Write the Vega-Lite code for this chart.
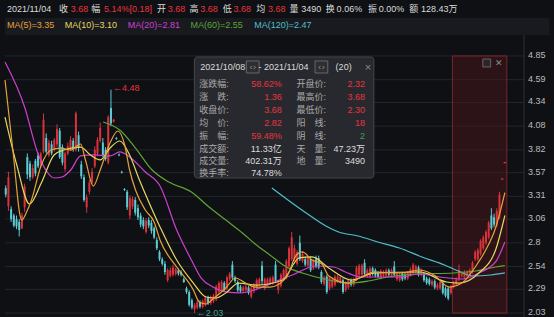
{
  "$schema": "https://vega.github.io/schema/vega-lite/v6.json",
  "width": 529,
  "height": 317,
  "autosize": {"type": "none"},
  "padding": {"left": 0, "right": 25, "top": 0, "bottom": 0},
  "background": "#0e1014",
  "config": {"view": {"stroke": null}},
  "datasets": {
    "k": [
      {"i":-1,"o":3.40,"h":3.43,"l":3.30,"c":3.33},
      {"i":0,"o":3.20,"h":3.58,"l":3.15,"c":3.52},
      {"i":1,"o":3.17,"h":3.20,"l":3.03,"c":3.06},
      {"i":2,"o":3.10,"h":3.12,"l":2.97,"c":2.99},
      {"i":3,"o":3.06,"h":3.10,"l":2.95,"c":2.98},
      {"i":4,"o":3.03,"h":3.06,"l":2.87,"c":2.94},
      {"i":5,"o":2.96,"h":3.13,"l":2.95,"c":3.10},
      {"i":6,"o":3.19,"h":3.45,"l":3.14,"c":3.42},
      {"i":7,"o":3.74,"h":3.78,"l":3.50,"c":3.55},
      {"i":8,"o":3.67,"h":3.70,"l":3.48,"c":3.52},
      {"i":9,"o":3.52,"h":3.66,"l":3.50,"c":3.62},
      {"i":10,"o":3.70,"h":3.72,"l":3.53,"c":3.56},
      {"i":11,"o":3.76,"h":3.79,"l":3.62,"c":3.64},
      {"i":12,"o":3.66,"h":3.80,"l":3.62,"c":3.78},
      {"i":13,"o":3.80,"h":4.22,"l":3.78,"c":4.15},
      {"i":14,"o":3.95,"h":4.00,"l":3.78,"c":3.80},
      {"i":15,"o":3.76,"h":3.93,"l":3.74,"c":3.90},
      {"i":16,"o":3.88,"h":3.92,"l":3.76,"c":3.78},
      {"i":17,"o":3.82,"h":3.95,"l":3.80,"c":3.93},
      {"i":18,"o":3.88,"h":4.10,"l":3.85,"c":4.05},
      {"i":19,"o":4.03,"h":4.06,"l":3.72,"c":3.74},
      {"i":20,"o":3.85,"h":3.88,"l":3.65,"c":3.68},
      {"i":21,"o":3.61,"h":3.80,"l":3.58,"c":3.78},
      {"i":22,"o":3.78,"h":3.90,"l":3.76,"c":3.86},
      {"i":23,"o":3.84,"h":3.97,"l":3.82,"c":3.93},
      {"i":24,"o":3.92,"h":3.95,"l":3.80,"c":3.83},
      {"i":25,"o":3.82,"h":4.24,"l":3.80,"c":4.22},
      {"i":26,"o":3.98,"h":4.02,"l":3.80,"c":3.84},
      {"i":27,"o":3.66,"h":3.70,"l":3.50,"c":3.53},
      {"i":28,"o":3.52,"h":3.55,"l":3.25,"c":3.27},
      {"i":29,"o":3.19,"h":3.33,"l":3.13,"c":3.30},
      {"i":30,"o":3.36,"h":3.49,"l":3.33,"c":3.46},
      {"i":31,"o":3.46,"h":3.62,"l":3.44,"c":3.58},
      {"i":32,"o":3.64,"h":3.86,"l":3.62,"c":3.82},
      {"i":33,"o":3.78,"h":3.96,"l":3.75,"c":3.93},
      {"i":34,"o":3.92,"h":4.12,"l":3.90,"c":4.06},
      {"i":35,"o":3.90,"h":3.95,"l":3.74,"c":3.76},
      {"i":36,"o":3.82,"h":3.85,"l":3.70,"c":3.72},
      {"i":37,"o":3.68,"h":4.20,"l":3.66,"c":4.18},
      {"i":38,"o":4.28,"h":4.48,"l":4.08,"c":4.11},
      {"i":39,"o":4.13,"h":4.16,"l":4.12,"c":4.15},
      {"i":40,"o":3.95,"h":3.96,"l":3.93,"c":3.94},
      {"i":41,"o":3.77,"h":3.78,"l":3.75,"c":3.76},
      {"i":42,"o":3.58,"h":3.59,"l":3.56,"c":3.57},
      {"i":43,"o":3.39,"h":3.40,"l":3.37,"c":3.38},
      {"i":44,"o":3.36,"h":3.38,"l":3.16,"c":3.19},
      {"i":45,"o":3.10,"h":3.32,"l":3.06,"c":3.29},
      {"i":46,"o":3.20,"h":3.31,"l":3.17,"c":3.28},
      {"i":47,"o":3.27,"h":3.30,"l":3.10,"c":3.13},
      {"i":48,"o":3.18,"h":3.22,"l":3.05,"c":3.08},
      {"i":49,"o":3.10,"h":3.13,"l":2.97,"c":3.00},
      {"i":50,"o":3.05,"h":3.08,"l":2.95,"c":2.98},
      {"i":51,"o":2.92,"h":3.07,"l":2.90,"c":3.04},
      {"i":52,"o":3.05,"h":3.08,"l":2.96,"c":2.99},
      {"i":53,"o":3.02,"h":3.05,"l":2.90,"c":2.93},
      {"i":54,"o":2.96,"h":2.98,"l":2.84,"c":2.86},
      {"i":55,"o":2.83,"h":2.86,"l":2.72,"c":2.74},
      {"i":56,"o":2.70,"h":2.72,"l":2.60,"c":2.62},
      {"i":57,"o":2.62,"h":2.64,"l":2.55,"c":2.57},
      {"i":58,"o":2.57,"h":2.60,"l":2.45,"c":2.48},
      {"i":59,"o":2.39,"h":2.52,"l":2.37,"c":2.50},
      {"i":60,"o":2.44,"h":2.53,"l":2.42,"c":2.50},
      {"i":61,"o":2.45,"h":2.56,"l":2.43,"c":2.53},
      {"i":62,"o":2.46,"h":2.53,"l":2.44,"c":2.51},
      {"i":63,"o":2.50,"h":2.52,"l":2.44,"c":2.46},
      {"i":64,"o":2.48,"h":2.50,"l":2.43,"c":2.45},
      {"i":65,"o":2.40,"h":2.42,"l":2.36,"c":2.37},
      {"i":66,"o":2.30,"h":2.32,"l":2.24,"c":2.26},
      {"i":67,"o":2.26,"h":2.28,"l":2.10,"c":2.12},
      {"i":68,"o":2.17,"h":2.19,"l":2.07,"c":2.09},
      {"i":69,"o":2.07,"h":2.14,"l":2.03,"c":2.12},
      {"i":70,"o":2.09,"h":2.17,"l":2.07,"c":2.15},
      {"i":71,"o":2.15,"h":2.17,"l":2.08,"c":2.10},
      {"i":72,"o":2.10,"h":2.18,"l":2.08,"c":2.16},
      {"i":73,"o":2.12,"h":2.22,"l":2.10,"c":2.20},
      {"i":74,"o":2.20,"h":2.22,"l":2.12,"c":2.14},
      {"i":75,"o":2.14,"h":2.22,"l":2.12,"c":2.20},
      {"i":76,"o":2.16,"h":2.24,"l":2.14,"c":2.22},
      {"i":77,"o":2.18,"h":2.34,"l":2.16,"c":2.32},
      {"i":78,"o":2.26,"h":2.38,"l":2.24,"c":2.36},
      {"i":79,"o":2.28,"h":2.39,"l":2.26,"c":2.37},
      {"i":80,"o":2.36,"h":2.38,"l":2.26,"c":2.28},
      {"i":81,"o":2.30,"h":2.44,"l":2.28,"c":2.42},
      {"i":82,"o":2.40,"h":2.48,"l":2.38,"c":2.46},
      {"i":83,"o":2.56,"h":2.60,"l":2.40,"c":2.42},
      {"i":84,"o":2.42,"h":2.44,"l":2.36,"c":2.38},
      {"i":85,"o":2.37,"h":2.39,"l":2.26,"c":2.28},
      {"i":86,"o":2.32,"h":2.34,"l":2.25,"c":2.27},
      {"i":87,"o":2.27,"h":2.33,"l":2.25,"c":2.31},
      {"i":88,"o":2.28,"h":2.34,"l":2.26,"c":2.32},
      {"i":89,"o":2.31,"h":2.33,"l":2.23,"c":2.25},
      {"i":90,"o":2.21,"h":2.32,"l":2.19,"c":2.30},
      {"i":91,"o":2.27,"h":2.36,"l":2.25,"c":2.34},
      {"i":92,"o":2.30,"h":2.41,"l":2.28,"c":2.39},
      {"i":93,"o":2.35,"h":2.42,"l":2.33,"c":2.40},
      {"i":94,"o":2.55,"h":2.60,"l":2.34,"c":2.38},
      {"i":95,"o":2.30,"h":2.42,"l":2.28,"c":2.40},
      {"i":96,"o":2.34,"h":2.42,"l":2.32,"c":2.40},
      {"i":97,"o":2.36,"h":2.43,"l":2.34,"c":2.41},
      {"i":98,"o":2.36,"h":2.44,"l":2.34,"c":2.42},
      {"i":99,"o":2.56,"h":2.60,"l":2.36,"c":2.38},
      {"i":100,"o":2.28,"h":2.38,"l":2.24,"c":2.36},
      {"i":101,"o":2.33,"h":2.47,"l":2.31,"c":2.45},
      {"i":102,"o":2.40,"h":2.52,"l":2.38,"c":2.50},
      {"i":103,"o":2.42,"h":2.62,"l":2.40,"c":2.60},
      {"i":104,"o":2.54,"h":2.76,"l":2.52,"c":2.74},
      {"i":105,"o":2.62,"h":2.92,"l":2.60,"c":2.86},
      {"i":106,"o":2.62,"h":2.78,"l":2.60,"c":2.74},
      {"i":107,"o":2.57,"h":2.72,"l":2.55,"c":2.70},
      {"i":108,"o":2.80,"h":2.88,"l":2.60,"c":2.62},
      {"i":109,"o":2.60,"h":2.70,"l":2.58,"c":2.68},
      {"i":110,"o":2.62,"h":2.65,"l":2.54,"c":2.56},
      {"i":111,"o":2.55,"h":2.66,"l":2.53,"c":2.64},
      {"i":112,"o":2.62,"h":2.65,"l":2.48,"c":2.50},
      {"i":113,"o":2.52,"h":2.62,"l":2.50,"c":2.60},
      {"i":114,"o":2.62,"h":2.66,"l":2.52,"c":2.54},
      {"i":115,"o":2.63,"h":2.66,"l":2.51,"c":2.53},
      {"i":116,"o":2.48,"h":2.50,"l":2.35,"c":2.37},
      {"i":117,"o":2.35,"h":2.44,"l":2.33,"c":2.42},
      {"i":118,"o":2.43,"h":2.45,"l":2.24,"c":2.26},
      {"i":119,"o":2.30,"h":2.44,"l":2.28,"c":2.42},
      {"i":120,"o":2.32,"h":2.42,"l":2.30,"c":2.40},
      {"i":121,"o":2.34,"h":2.45,"l":2.32,"c":2.43},
      {"i":122,"o":2.38,"h":2.45,"l":2.36,"c":2.43},
      {"i":123,"o":2.37,"h":2.44,"l":2.35,"c":2.42},
      {"i":124,"o":2.39,"h":2.41,"l":2.24,"c":2.26},
      {"i":125,"o":2.28,"h":2.38,"l":2.26,"c":2.36},
      {"i":126,"o":2.31,"h":2.41,"l":2.29,"c":2.39},
      {"i":127,"o":2.39,"h":2.41,"l":2.32,"c":2.34},
      {"i":128,"o":2.34,"h":2.42,"l":2.32,"c":2.40},
      {"i":129,"o":2.40,"h":2.55,"l":2.38,"c":2.53},
      {"i":130,"o":2.45,"h":2.57,"l":2.43,"c":2.55},
      {"i":131,"o":2.45,"h":2.57,"l":2.43,"c":2.55},
      {"i":132,"o":2.58,"h":2.62,"l":2.44,"c":2.46},
      {"i":133,"o":2.44,"h":2.52,"l":2.42,"c":2.50},
      {"i":134,"o":2.43,"h":2.54,"l":2.41,"c":2.52},
      {"i":135,"o":2.52,"h":2.54,"l":2.44,"c":2.46},
      {"i":136,"o":2.50,"h":2.52,"l":2.42,"c":2.44},
      {"i":137,"o":2.47,"h":2.49,"l":2.41,"c":2.43},
      {"i":138,"o":2.42,"h":2.51,"l":2.40,"c":2.49},
      {"i":139,"o":2.44,"h":2.50,"l":2.42,"c":2.48},
      {"i":140,"o":2.44,"h":2.52,"l":2.42,"c":2.50},
      {"i":141,"o":2.50,"h":2.52,"l":2.43,"c":2.45},
      {"i":142,"o":2.44,"h":2.52,"l":2.42,"c":2.50},
      {"i":143,"o":2.54,"h":2.60,"l":2.43,"c":2.45},
      {"i":144,"o":2.40,"h":2.48,"l":2.38,"c":2.46},
      {"i":145,"o":2.39,"h":2.47,"l":2.37,"c":2.45},
      {"i":146,"o":2.46,"h":2.48,"l":2.38,"c":2.40},
      {"i":147,"o":2.45,"h":2.47,"l":2.39,"c":2.41},
      {"i":148,"o":2.41,"h":2.49,"l":2.39,"c":2.47},
      {"i":149,"o":2.45,"h":2.53,"l":2.43,"c":2.51},
      {"i":150,"o":2.47,"h":2.58,"l":2.45,"c":2.56},
      {"i":151,"o":2.48,"h":2.56,"l":2.46,"c":2.54},
      {"i":152,"o":2.53,"h":2.55,"l":2.43,"c":2.45},
      {"i":153,"o":2.45,"h":2.52,"l":2.43,"c":2.50},
      {"i":154,"o":2.45,"h":2.47,"l":2.37,"c":2.39},
      {"i":155,"o":2.41,"h":2.43,"l":2.34,"c":2.36},
      {"i":156,"o":2.40,"h":2.42,"l":2.33,"c":2.35},
      {"i":157,"o":2.34,"h":2.40,"l":2.32,"c":2.38},
      {"i":158,"o":2.38,"h":2.40,"l":2.29,"c":2.31},
      {"i":159,"o":2.30,"h":2.36,"l":2.28,"c":2.34},
      {"i":160,"o":2.30,"h":2.39,"l":2.28,"c":2.37},
      {"i":161,"o":2.36,"h":2.38,"l":2.23,"c":2.25},
      {"i":162,"o":2.30,"h":2.32,"l":2.20,"c":2.22},
      {"i":163,"o":2.30,"h":2.32,"l":2.17,"c":2.19},
      {"i":164,"o":2.25,"h":2.34,"l":2.23,"c":2.32},
      {"i":165,"o":2.32,"h":2.38,"l":2.30,"c":2.36},
      {"i":166,"o":2.34,"h":2.42,"l":2.33,"c":2.40},
      {"i":167,"o":2.40,"h":2.56,"l":2.38,"c":2.50},
      {"i":168,"o":2.44,"h":2.49,"l":2.42,"c":2.47},
      {"i":169,"o":2.42,"h":2.50,"l":2.40,"c":2.48},
      {"i":170,"o":2.44,"h":2.50,"l":2.42,"c":2.48},
      {"i":171,"o":2.45,"h":2.52,"l":2.43,"c":2.50},
      {"i":172,"o":2.48,"h":2.60,"l":2.46,"c":2.58},
      {"i":173,"o":2.62,"h":2.72,"l":2.60,"c":2.70},
      {"i":174,"o":2.62,"h":2.74,"l":2.60,"c":2.72},
      {"i":175,"o":2.68,"h":2.84,"l":2.66,"c":2.82},
      {"i":176,"o":2.74,"h":2.88,"l":2.72,"c":2.86},
      {"i":177,"o":2.80,"h":2.94,"l":2.78,"c":2.92},
      {"i":178,"o":2.86,"h":3.04,"l":2.84,"c":3.02},
      {"i":179,"o":3.10,"h":3.18,"l":2.94,"c":2.96},
      {"i":180,"o":3.08,"h":3.12,"l":2.97,"c":3.00},
      {"i":181,"o":2.99,"h":3.18,"l":2.97,"c":3.15},
      {"i":182,"o":3.08,"h":3.36,"l":3.06,"c":3.33},
      {"i":183,"o":3.50,"h":3.50,"l":3.50,"c":3.50},
      {"i":184,"o":3.68,"h":3.68,"l":3.68,"c":3.68}
    ],
    "ma5": [
      {"i":-1.27,"v":4.586},{"i":1.64,"v":3.818},{"i":4.91,"v":3.05},{"i":6.73,"v":3.138},{"i":8.55,"v":3.27},{"i":12.18,"v":3.654},{"i":15.82,"v":3.818},{"i":19.45,"v":3.84},{"i":23.09,"v":3.818},{"i":26.73,"v":3.884},{"i":28.55,"v":3.709},{"i":31.45,"v":3.423},{"i":34.0,"v":3.599},{"i":37.64,"v":3.895},{"i":40.55,"v":4.027},{"i":43.09,"v":3.873},{"i":44.91,"v":3.599},{"i":47.09,"v":3.38},{"i":50.73,"v":3.16},{"i":54.0,"v":3.029},{"i":56.18,"v":2.831},{"i":62.36,"v":2.535},{"i":68.55,"v":2.283},{"i":70.73,"v":2.151},{"i":73.27,"v":2.129},{"i":75.82,"v":2.184},{"i":80.55,"v":2.305},{"i":84.18,"v":2.414},{"i":87.82,"v":2.359},{"i":91.45,"v":2.315},{"i":96.91,"v":2.315},{"i":103.09,"v":2.425},{"i":106.73,"v":2.667},{"i":108.91,"v":2.70},{"i":112.55,"v":2.612},{"i":116.18,"v":2.568},{"i":118.73,"v":2.436},{"i":126.0,"v":2.359},{"i":130.73,"v":2.425},{"i":135.82,"v":2.48},{"i":145.27,"v":2.469},{"i":152.55,"v":2.502},{"i":157.64,"v":2.447},{"i":163.45,"v":2.315},{"i":168.55,"v":2.37},{"i":173.27,"v":2.546},{"i":176.91,"v":2.721},{"i":180.55,"v":2.963},{"i":184,"v":3.35}
    ],
    "ma10": [
      {"i":-1.27,"v":4.18},{"i":3.09,"v":3.654},{"i":7.82,"v":3.226},{"i":12.18,"v":3.456},{"i":16.91,"v":3.764},{"i":20.55,"v":3.818},{"i":26.73,"v":3.851},{"i":30.36,"v":3.764},{"i":34.0,"v":3.709},{"i":37.64,"v":3.84},{"i":41.27,"v":3.917},{"i":44.91,"v":3.764},{"i":48.55,"v":3.489},{"i":52.18,"v":3.237},{"i":56.18,"v":2.974},{"i":62.36,"v":2.612},{"i":68.55,"v":2.359},{"i":73.27,"v":2.206},{"i":76.91,"v":2.195},{"i":80.55,"v":2.25},{"i":85.27,"v":2.359},{"i":92.18,"v":2.337},{"i":101.64,"v":2.392},{"i":107.82,"v":2.634},{"i":112.55,"v":2.645},{"i":118.73,"v":2.524},{"i":127.09,"v":2.392},{"i":135.82,"v":2.469},{"i":152.55,"v":2.48},{"i":162.36,"v":2.37},{"i":167.09,"v":2.359},{"i":174.36,"v":2.469},{"i":180.55,"v":2.721},{"i":184,"v":3.10}
    ],
    "ma20": [
      {"i":-1.27,"v":4.784},{"i":6.0,"v":4.29},{"i":10.73,"v":3.797},{"i":14.36,"v":3.577},{"i":16.91,"v":3.511},{"i":19.82,"v":3.522},{"i":23.09,"v":3.599},{"i":26.73,"v":3.753},{"i":31.45,"v":3.764},{"i":37.64,"v":3.753},{"i":41.27,"v":3.797},{"i":44.91,"v":3.742},{"i":50.73,"v":3.577},{"i":56.18,"v":3.423},{"i":62.36,"v":2.941},{"i":67.82,"v":2.612},{"i":71.45,"v":2.414},{"i":75.82,"v":2.315},{"i":80.55,"v":2.261},{"i":86.0,"v":2.25},{"i":92.18,"v":2.294},{"i":99.45,"v":2.381},{"i":105.27,"v":2.447},{"i":114.0,"v":2.546},{"i":120.55,"v":2.535},{"i":124.91,"v":2.48},{"i":130.73,"v":2.425},{"i":136.91,"v":2.425},{"i":145.27,"v":2.425},{"i":152.55,"v":2.458},{"i":159.82,"v":2.425},{"i":168.55,"v":2.403},{"i":174.36,"v":2.469},{"i":180.55,"v":2.59},{"i":184,"v":2.81}
    ],
    "ma60": [
      {"i":35.09,"v":4.126},{"i":41.27,"v":4.038},{"i":47.09,"v":3.84},{"i":53.27,"v":3.599},{"i":59.45,"v":3.467},{"i":67.82,"v":3.358},{"i":74.36,"v":3.193},{"i":80.55,"v":3.05},{"i":86.73,"v":2.908},{"i":91.45,"v":2.787},{"i":96.91,"v":2.667},{"i":103.09,"v":2.535},{"i":108.91,"v":2.469},{"i":118.73,"v":2.392},{"i":126.0,"v":2.359},{"i":133.27,"v":2.381},{"i":140.55,"v":2.425},{"i":151.45,"v":2.458},{"i":164.91,"v":2.469},{"i":173.27,"v":2.491},{"i":180.55,"v":2.535},{"i":184,"v":2.55}
    ],
    "ma120": [
      {"i":97.64,"v":3.401},{"i":103.09,"v":3.281},{"i":110.36,"v":3.127},{"i":117.64,"v":2.985},{"i":122.36,"v":2.919},{"i":129.64,"v":2.875},{"i":136.91,"v":2.809},{"i":144.91,"v":2.743},{"i":153.27,"v":2.645},{"i":161.64,"v":2.557},{"i":166.73,"v":2.491},{"i":172.18,"v":2.436},{"i":178.73,"v":2.447},{"i":184,"v":2.47}
    ],
    "ticks": [
      {"v":2.03,"t":"2.03"},{"v":2.29,"t":"2.29"},{"v":2.54,"t":"2.54"},{"v":2.8,"t":"2.8"},{"v":3.06,"t":"3.06"},{"v":3.31,"t":"3.31"},{"v":3.57,"t":"3.57"},{"v":3.82,"t":"3.82"},{"v":4.08,"t":"4.08"},{"v":4.34,"t":"4.34"},{"v":4.59,"t":"4.59"},{"v":4.85,"t":"4.85"}
    ],
    "tl": [
      {"i":-0.55,"v":5.362,"t":"2021/11/04","k":"w"},
      {"i":18.73,"v":5.362,"t":"收","k":"w"},
      {"i":23.09,"v":5.362,"t":"3.68","k":"r"},
      {"i":30.73,"v":5.362,"t":"幅","k":"w"},
      {"i":35.45,"v":5.362,"t":"5.14%[0.18]","k":"r"},
      {"i":55.09,"v":5.362,"t":"开","k":"w"},
      {"i":59.09,"v":5.362,"t":"3.68","k":"r"},
      {"i":67.09,"v":5.362,"t":"高","k":"w"},
      {"i":71.09,"v":5.362,"t":"3.68","k":"r"},
      {"i":79.45,"v":5.362,"t":"低","k":"w"},
      {"i":83.45,"v":5.362,"t":"3.68","k":"r"},
      {"i":91.82,"v":5.362,"t":"均","k":"w"},
      {"i":96.18,"v":5.362,"t":"3.68","k":"r"},
      {"i":104.18,"v":5.362,"t":"量","k":"w"},
      {"i":108.55,"v":5.362,"t":"3490","k":"w"},
      {"i":117.64,"v":5.362,"t":"换","k":"w"},
      {"i":121.64,"v":5.362,"t":"0.06%","k":"w"},
      {"i":133.27,"v":5.362,"t":"振","k":"w"},
      {"i":137.27,"v":5.362,"t":"0.00%","k":"w"},
      {"i":148.55,"v":5.362,"t":"额","k":"w"},
      {"i":152.9,"v":5.362,"t":"128.43万","k":"w"},
      {"i":-0.55,"v":5.19,"t":"MA(5)=3.35","k":"ma5"},
      {"i":20.91,"v":5.19,"t":"MA(10)=3.10","k":"ma10"},
      {"i":44.18,"v":5.19,"t":"MA(20)=2.81","k":"ma20"},
      {"i":67.45,"v":5.19,"t":"MA(60)=2.55","k":"ma60"},
      {"i":91.09,"v":5.19,"t":"MA(120)=2.47","k":"ma120"},
      {"i":71.09,"v":4.729,"t":"2021/10/08","k":"w"},
      {"i":92.7,"v":4.729,"t":"- 2021/11/04","k":"w"},
      {"i":121.27,"v":4.729,"t":"(20)","k":"w"},
      {"i":70.73,"v":4.542,"t":"涨跌幅:","k":"lab"},
      {"i":70.73,"v":4.4,"t":"涨　跌:","k":"lab"},
      {"i":70.73,"v":4.257,"t":"收盘价:","k":"lab"},
      {"i":70.73,"v":4.114,"t":"均　价:","k":"lab"},
      {"i":70.73,"v":3.972,"t":"振　幅:","k":"lab"},
      {"i":70.73,"v":3.829,"t":"成交额:","k":"lab"},
      {"i":70.73,"v":3.698,"t":"成交量:","k":"lab"},
      {"i":70.73,"v":3.566,"t":"换手率:","k":"lab"},
      {"i":106.73,"v":4.542,"t":"开盘价:","k":"lab"},
      {"i":106.73,"v":4.4,"t":"最高价:","k":"lab"},
      {"i":106.73,"v":4.257,"t":"最低价:","k":"lab"},
      {"i":106.73,"v":4.114,"t":"阳　线:","k":"lab"},
      {"i":106.73,"v":3.972,"t":"阴　线:","k":"lab"},
      {"i":106.73,"v":3.829,"t":"天　量:","k":"lab"},
      {"i":106.73,"v":3.698,"t":"地　量:","k":"lab"},
      {"i":38.73,"v":4.495,"t":"←4.48","k":"r"},
      {"i":69.8,"v":2.035,"t":"←2.03","k":"low"}
    ],
    "tr": [
      {"i":101.27,"v":4.542,"t":"58.62%","k":"r"},
      {"i":101.27,"v":4.4,"t":"1.36","k":"r"},
      {"i":101.27,"v":4.257,"t":"3.68","k":"r"},
      {"i":101.27,"v":4.114,"t":"2.82","k":"r"},
      {"i":101.27,"v":3.972,"t":"59.48%","k":"r"},
      {"i":101.27,"v":3.829,"t":"11.33亿","k":"w"},
      {"i":101.27,"v":3.698,"t":"402.31万","k":"w"},
      {"i":101.27,"v":3.566,"t":"74.78%","k":"w"},
      {"i":132.18,"v":4.542,"t":"2.32","k":"r"},
      {"i":132.18,"v":4.4,"t":"3.68","k":"r"},
      {"i":132.18,"v":4.257,"t":"2.30","k":"r"},
      {"i":132.18,"v":4.114,"t":"18","k":"r"},
      {"i":132.18,"v":3.972,"t":"2","k":"g"},
      {"i":132.18,"v":3.829,"t":"47.23万","k":"w"},
      {"i":132.18,"v":3.698,"t":"3490","k":"w"}
    ],
    "tc": [
      {"i":90.55,"v":4.729,"t":"‹›","k":"dim"},
      {"i":116.0,"v":4.729,"t":"‹›","k":"dim"},
      {"i":133.3,"v":4.729,"t":"×","k":"dim"},
      {"i":181.7,"v":4.773,"t":"✕","k":"dim"}
    ]
  },
  "layer": [
    {
      "data": {"values": [{"a": -1.273, "b": 200.5, "lo": 5.08, "hi": 5.2665}]},
      "mark": {"type": "rect", "fill": "#181a1f", "clip": false},
      "encoding": {
        "x": {"field": "a", "type": "quantitative", "scale": {"domain": [-1.273, 191.09], "nice": false, "zero": false}, "axis": null},
        "x2": {"field": "b"},
        "y": {"field": "lo", "type": "quantitative", "axis": null,
              "scale": {"domain": [1.9864, 5.4639], "nice": false, "zero": false}},
        "y2": {"field": "hi"}
      }
    },
    {
      "data": {"name": "ticks"},
      "mark": {"type": "rule", "color": "#22262d", "strokeWidth": 1},
      "encoding": {
        "x": {"datum": -1.273, "type": "quantitative", "axis": null},
        "x2": {"datum": 191.09},
        "y": {"field": "v", "type": "quantitative", "axis": null}
      }
    },
    {
      "data": {"values": [{"a": 164.55, "b": 184.73, "lo": 2.03, "hi": 4.85}]},
      "mark": {"type": "rect", "fill": "#4a1519", "fillOpacity": 0.5, "stroke": "#7e2529", "strokeWidth": 1},
      "encoding": {
        "x": {"field": "a", "type": "quantitative", "axis": null},
        "x2": {"field": "b"},
        "y": {"field": "lo", "type": "quantitative", "axis": null},
        "y2": {"field": "hi"}
      }
    },
    {
      "data": {"name": "k"},
      "mark": {"type": "rule", "strokeWidth": 1, "clip": true},
      "encoding": {
        "x": {"field": "i", "type": "quantitative", "axis": null},
        "y": {"field": "l", "type": "quantitative", "axis": null},
        "y2": {"field": "h"},
        "color": {"condition": {"test": "datum.c >= datum.o", "value": "#d8323b"}, "value": "#5ccbd3"}
      }
    },
    {
      "data": {"name": "k"},
      "mark": {"type": "bar", "size": 2, "orient": "vertical", "clip": true},
      "encoding": {
        "x": {"field": "i", "type": "quantitative", "axis": null},
        "y": {"field": "o", "type": "quantitative", "axis": null},
        "y2": {"field": "c"},
        "color": {"condition": {"test": "datum.c >= datum.o", "value": "#d8323b"}, "value": "#5ccbd3"}
      }
    },
    {
      "data": {"name": "k"},
      "transform": [{"filter": "datum.o == datum.c"}],
      "mark": {"type": "tick", "orient": "horizontal", "size": 2.6, "thickness": 1.3, "color": "#d8323b", "opacity": 1},
      "encoding": {
        "x": {"field": "i", "type": "quantitative", "axis": null},
        "y": {"field": "c", "type": "quantitative", "axis": null}
      }
    },
    {
      "data": {"name": "ma120"},
      "mark": {"type": "line", "color": "#50bfcb", "strokeWidth": 1.2, "interpolate": "monotone", "clip": true},
      "encoding": {
        "x": {"field": "i", "type": "quantitative", "axis": null},
        "y": {"field": "v", "type": "quantitative", "axis": null}
      }
    },
    {
      "data": {"name": "ma60"},
      "mark": {"type": "line", "color": "#5ea535", "strokeWidth": 1.2, "interpolate": "monotone", "clip": true},
      "encoding": {
        "x": {"field": "i", "type": "quantitative", "axis": null},
        "y": {"field": "v", "type": "quantitative", "axis": null}
      }
    },
    {
      "data": {"name": "ma20"},
      "mark": {"type": "line", "color": "#cf40cf", "strokeWidth": 1.2, "interpolate": "monotone", "clip": true},
      "encoding": {
        "x": {"field": "i", "type": "quantitative", "axis": null},
        "y": {"field": "v", "type": "quantitative", "axis": null}
      }
    },
    {
      "data": {"name": "ma10"},
      "mark": {"type": "line", "color": "#e6d860", "strokeWidth": 1.2, "interpolate": "monotone", "clip": true},
      "encoding": {
        "x": {"field": "i", "type": "quantitative", "axis": null},
        "y": {"field": "v", "type": "quantitative", "axis": null}
      }
    },
    {
      "data": {"name": "ma5"},
      "mark": {"type": "line", "color": "#e5a33a", "strokeWidth": 1.2, "interpolate": "monotone", "clip": true},
      "encoding": {
        "x": {"field": "i", "type": "quantitative", "axis": null},
        "y": {"field": "v", "type": "quantitative", "axis": null}
      }
    },
    {
      "data": {"values": [{"a": 191.09, "lo": 1.9864, "hi": 5.08}]},
      "mark": {"type": "rule", "color": "#2a2e35", "strokeWidth": 1},
      "encoding": {
        "x": {"field": "a", "type": "quantitative", "axis": null},
        "y": {"field": "lo", "type": "quantitative", "axis": null},
        "y2": {"field": "hi"}
      }
    },
    {
      "data": {"name": "ticks"},
      "mark": {"type": "text", "align": "left", "baseline": "middle", "dx": 4, "dy": -1, "fontSize": 9, "font": "Liberation Sans", "color": "#bcbcbc", "clip": false},
      "encoding": {
        "x": {"datum": 191.09, "type": "quantitative", "axis": null},
        "y": {"field": "v", "type": "quantitative", "axis": null},
        "text": {"field": "t"}
      }
    },
    {
      "data": {"values": [{"a": 68.91, "b": 135.45, "lo": 3.511, "hi": 4.839}]},
      "mark": {"type": "rect", "fill": "#292a2f", "opacity": 0.98, "stroke": "#46484e", "strokeWidth": 1, "cornerRadius": 3},
      "encoding": {
        "x": {"field": "a", "type": "quantitative", "axis": null},
        "x2": {"field": "b"},
        "y": {"field": "lo", "type": "quantitative", "axis": null},
        "y2": {"field": "hi"}
      }
    },
    {
      "data": {"values": [{"a": 88.18, "b": 92.91, "lo": 4.663, "hi": 4.795}, {"a": 113.64, "b": 118.36, "lo": 4.663, "hi": 4.795}, {"a": 175.82, "b": 178.73, "lo": 4.729, "hi": 4.817}]},
      "mark": {"type": "rect", "fill": "#303136", "fillOpacity": 0.6, "stroke": "#75777d", "strokeWidth": 0.8},
      "encoding": {
        "x": {"field": "a", "type": "quantitative", "axis": null},
        "x2": {"field": "b"},
        "y": {"field": "lo", "type": "quantitative", "axis": null},
        "y2": {"field": "hi"}
      }
    },
    {
      "data": {"name": "tl"},
      "mark": {"type": "text", "align": "left", "baseline": "middle", "fontSize": 9, "font": "Liberation Sans, Noto Sans CJK SC", "clip": false},
      "encoding": {
        "x": {"field": "i", "type": "quantitative", "axis": null},
        "y": {"field": "v", "type": "quantitative", "axis": null},
        "text": {"field": "t"},
        "color": {"field": "k", "type": "nominal", "legend": null,
                  "scale": {"domain": ["w", "r", "g", "lab", "dim", "ma5", "ma10", "ma20", "ma60", "ma120", "low"],
                            "range": ["#dcdcdc", "#e8343e", "#33a852", "#aaaaaa", "#8c8c8c", "#e5a33a", "#e6d860", "#cf40cf", "#5ea535", "#50bfcb", "#43a08f"]}}
      }
    },
    {
      "data": {"name": "tr"},
      "mark": {"type": "text", "align": "right", "baseline": "middle", "fontSize": 9, "font": "Liberation Sans, Noto Sans CJK SC"},
      "encoding": {
        "x": {"field": "i", "type": "quantitative", "axis": null},
        "y": {"field": "v", "type": "quantitative", "axis": null},
        "text": {"field": "t"},
        "color": {"field": "k", "type": "nominal", "legend": null}
      }
    },
    {
      "data": {"name": "tc"},
      "mark": {"type": "text", "align": "center", "baseline": "middle", "fontSize": 9, "font": "DejaVu Sans"},
      "encoding": {
        "x": {"field": "i", "type": "quantitative", "axis": null},
        "y": {"field": "v", "type": "quantitative", "axis": null},
        "text": {"field": "t"},
        "color": {"field": "k", "type": "nominal", "legend": null}
      }
    }
  ]
}
